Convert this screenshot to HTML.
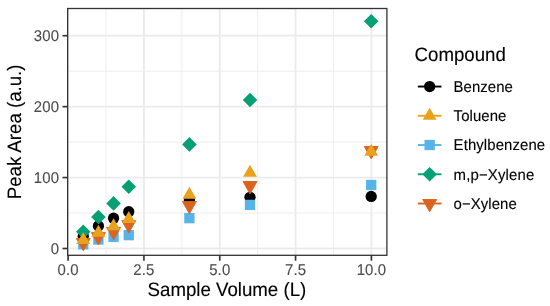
<!DOCTYPE html>
<html><head><meta charset="utf-8"><title>Peak Area vs Sample Volume</title>
<style>html,body{margin:0;padding:0;background:#fff}svg{display:block}text{font-family:"Liberation Sans",sans-serif;text-rendering:geometricPrecision}</style></head><body>
<svg width="550" height="306" viewBox="0 0 550 306">
<rect width="550" height="306" fill="#fff"/>
<g stroke="#EBEBEB" fill="none">
<line x1="67.65" x2="386.9" y1="213.03" y2="213.03" stroke-width="0.9"/>
<line x1="67.65" x2="386.9" y1="142.10" y2="142.10" stroke-width="0.9"/>
<line x1="67.65" x2="386.9" y1="71.17" y2="71.17" stroke-width="0.9"/>
<line y1="8.5" y2="255.3" x1="106.01" x2="106.01" stroke-width="0.9"/>
<line y1="8.5" y2="255.3" x1="181.84" x2="181.84" stroke-width="0.9"/>
<line y1="8.5" y2="255.3" x1="257.66" x2="257.66" stroke-width="0.9"/>
<line y1="8.5" y2="255.3" x1="333.49" x2="333.49" stroke-width="0.9"/>
<line x1="67.65" x2="386.9" y1="248.50" y2="248.50" stroke-width="1.8"/>
<line x1="67.65" x2="386.9" y1="177.57" y2="177.57" stroke-width="1.8"/>
<line x1="67.65" x2="386.9" y1="106.64" y2="106.64" stroke-width="1.8"/>
<line x1="67.65" x2="386.9" y1="35.71" y2="35.71" stroke-width="1.8"/>
<line y1="8.5" y2="255.3" x1="68.10" x2="68.10" stroke-width="1.8"/>
<line y1="8.5" y2="255.3" x1="143.92" x2="143.92" stroke-width="1.8"/>
<line y1="8.5" y2="255.3" x1="219.75" x2="219.75" stroke-width="1.8"/>
<line y1="8.5" y2="255.3" x1="295.57" x2="295.57" stroke-width="1.8"/>
<line y1="8.5" y2="255.3" x1="371.40" x2="371.40" stroke-width="1.8"/>
</g>
<g>
<circle cx="83.25" cy="236.20" r="5.65" fill="#000000"/>
<circle cx="98.40" cy="226.00" r="5.65" fill="#000000"/>
<circle cx="113.55" cy="218.20" r="5.65" fill="#000000"/>
<circle cx="128.75" cy="211.70" r="5.65" fill="#000000"/>
<circle cx="189.40" cy="200.00" r="5.65" fill="#000000"/>
<circle cx="250.00" cy="197.30" r="5.65" fill="#000000"/>
<circle cx="371.20" cy="196.40" r="5.65" fill="#000000"/>
<rect x="78.10" y="239.15" width="10.30" height="10.30" fill="#56B4E9"/>
<rect x="93.25" y="234.35" width="10.30" height="10.30" fill="#56B4E9"/>
<rect x="108.40" y="231.75" width="10.30" height="10.30" fill="#56B4E9"/>
<rect x="123.60" y="230.00" width="10.30" height="10.30" fill="#56B4E9"/>
<rect x="184.25" y="213.00" width="10.30" height="10.30" fill="#56B4E9"/>
<rect x="244.85" y="199.75" width="10.30" height="10.30" fill="#56B4E9"/>
<rect x="366.05" y="179.85" width="10.30" height="10.30" fill="#56B4E9"/>
<polygon points="75.97,231.80 83.25,224.52 90.53,231.80 83.25,239.08" fill="#06A074"/>
<polygon points="91.12,217.05 98.40,209.77 105.68,217.05 98.40,224.33" fill="#06A074"/>
<polygon points="106.27,203.40 113.55,196.12 120.83,203.40 113.55,210.68" fill="#06A074"/>
<polygon points="121.47,186.80 128.75,179.52 136.03,186.80 128.75,194.08" fill="#06A074"/>
<polygon points="182.12,144.40 189.40,137.12 196.68,144.40 189.40,151.68" fill="#06A074"/>
<polygon points="242.72,100.00 250.00,92.72 257.28,100.00 250.00,107.28" fill="#06A074"/>
<polygon points="363.92,21.20 371.20,13.92 378.48,21.20 371.20,28.48" fill="#06A074"/>
<polygon points="83.25,250.75 90.18,238.40 76.32,238.40" fill="#DB6320" stroke="#DB6320" stroke-width="0.95" stroke-linejoin="round"/>
<polygon points="98.40,244.95 105.33,232.60 91.47,232.60" fill="#DB6320" stroke="#DB6320" stroke-width="0.95" stroke-linejoin="round"/>
<polygon points="113.55,239.80 120.48,227.45 106.62,227.45" fill="#DB6320" stroke="#DB6320" stroke-width="0.95" stroke-linejoin="round"/>
<polygon points="128.75,233.00 135.68,220.65 121.82,220.65" fill="#DB6320" stroke="#DB6320" stroke-width="0.95" stroke-linejoin="round"/>
<polygon points="189.40,213.80 196.33,201.45 182.47,201.45" fill="#DB6320" stroke="#DB6320" stroke-width="0.95" stroke-linejoin="round"/>
<polygon points="250.00,193.85 256.93,181.50 243.07,181.50" fill="#DB6320" stroke="#DB6320" stroke-width="0.95" stroke-linejoin="round"/>
<polygon points="371.20,158.85 378.13,146.50 364.27,146.50" fill="#DB6320" stroke="#DB6320" stroke-width="0.95" stroke-linejoin="round"/>
<polygon points="83.25,231.90 90.18,243.90 76.32,243.90" fill="#E8A21E"/>
<polygon points="98.40,224.70 105.33,236.70 91.47,236.70" fill="#E8A21E"/>
<polygon points="113.55,218.35 120.48,230.35 106.62,230.35" fill="#E8A21E"/>
<polygon points="128.75,210.90 135.68,222.90 121.82,222.90" fill="#E8A21E"/>
<polygon points="189.40,186.70 196.33,198.70 182.47,198.70" fill="#E8A21E"/>
<polygon points="250.00,164.70 256.93,176.70 243.07,176.70" fill="#E8A21E"/>
<polygon points="371.20,143.80 378.13,155.80 364.27,155.80" fill="#E8A21E"/>
</g>
<rect x="67.65" y="8.5" width="319.25" height="246.80" fill="none" stroke="#333333" stroke-width="1.3"/>
<g stroke="#333333" stroke-width="1.65">
<line x1="62.5" x2="67.65" y1="248.50" y2="248.50"/>
<line x1="62.5" x2="67.65" y1="177.57" y2="177.57"/>
<line x1="62.5" x2="67.65" y1="106.64" y2="106.64"/>
<line x1="62.5" x2="67.65" y1="35.71" y2="35.71"/>
<line y1="255.3" y2="260.7" x1="68.10" x2="68.10"/>
<line y1="255.3" y2="260.7" x1="143.92" x2="143.92"/>
<line y1="255.3" y2="260.7" x1="219.75" x2="219.75"/>
<line y1="255.3" y2="260.7" x1="295.57" x2="295.57"/>
<line y1="255.3" y2="260.7" x1="371.40" x2="371.40"/>
</g>
<g font-size="14.93" fill="#4D4D4D" stroke="#4D4D4D" stroke-width="0.12" letter-spacing="0.12">
<text transform="translate(59.1,254.10) scale(1,1.04)" text-anchor="end">0</text>
<text transform="translate(59.1,183.17) scale(1,1.04)" text-anchor="end">100</text>
<text transform="translate(59.1,112.24) scale(1,1.04)" text-anchor="end">200</text>
<text transform="translate(59.1,41.31) scale(1,1.04)" text-anchor="end">300</text>
<text transform="translate(68.10,275.4) scale(1,1.04)" text-anchor="middle">0.0</text>
<text transform="translate(143.92,275.4) scale(1,1.04)" text-anchor="middle">2.5</text>
<text transform="translate(219.75,275.4) scale(1,1.04)" text-anchor="middle">5.0</text>
<text transform="translate(295.57,275.4) scale(1,1.04)" text-anchor="middle">7.5</text>
<text transform="translate(371.40,275.4) scale(1,1.04)" text-anchor="middle">10.0</text>
</g>
<g font-size="18.67" fill="#000" stroke="#000" stroke-width="0.12">
<text transform="translate(226.9,296.1) scale(1,1.04)" text-anchor="middle">Sample Volume (L)</text>
<text transform="translate(21.05,131.9) rotate(-90) scale(1,1.04)" text-anchor="middle">Peak Area (a.u.)</text>
<text transform="translate(414.6,60.5) scale(1,1.04)">Compound</text>
</g>
<g>
<line x1="417.85" x2="441.5" y1="86.55" y2="86.55" stroke="#000000" stroke-width="1.9"/>
<circle cx="429.65" cy="86.55" r="5.65" fill="#000000"/>
<line x1="417.85" x2="441.5" y1="115.79" y2="115.79" stroke="#E8A21E" stroke-width="1.9"/>
<polygon points="429.65,107.79 436.58,119.79 422.72,119.79" fill="#E8A21E"/>
<line x1="417.85" x2="441.5" y1="145.03" y2="145.03" stroke="#56B4E9" stroke-width="1.9"/>
<rect x="424.50" y="139.88" width="10.30" height="10.30" fill="#56B4E9"/>
<line x1="417.85" x2="441.5" y1="174.27" y2="174.27" stroke="#06A074" stroke-width="1.9"/>
<polygon points="422.37,174.27 429.65,166.99 436.93,174.27 429.65,181.55" fill="#06A074"/>
<line x1="417.85" x2="441.5" y1="203.51" y2="203.51" stroke="#DB6320" stroke-width="1.9"/>
<polygon points="429.65,211.86 436.58,199.51 422.72,199.51" fill="#DB6320" stroke="#DB6320" stroke-width="0.95" stroke-linejoin="round"/>
</g>
<g font-size="14.93" fill="#000" stroke="#000" stroke-width="0.12">
<text transform="translate(453.6,92.10) scale(1,1.04)" letter-spacing="0.05">Benzene</text>
<text transform="translate(453.6,121.10) scale(1,1.04)" letter-spacing="0.08">Toluene</text>
<text transform="translate(453.6,150.20) scale(1,1.04)" letter-spacing="0.1">Ethylbenzene</text>
<text transform="translate(453.6,179.60) scale(1,1.04)" letter-spacing="0.17">m,p−Xylene</text>
<text transform="translate(453.6,208.75) scale(1,1.04)" letter-spacing="0.08">o−Xylene</text>
</g>
</svg></body></html>
